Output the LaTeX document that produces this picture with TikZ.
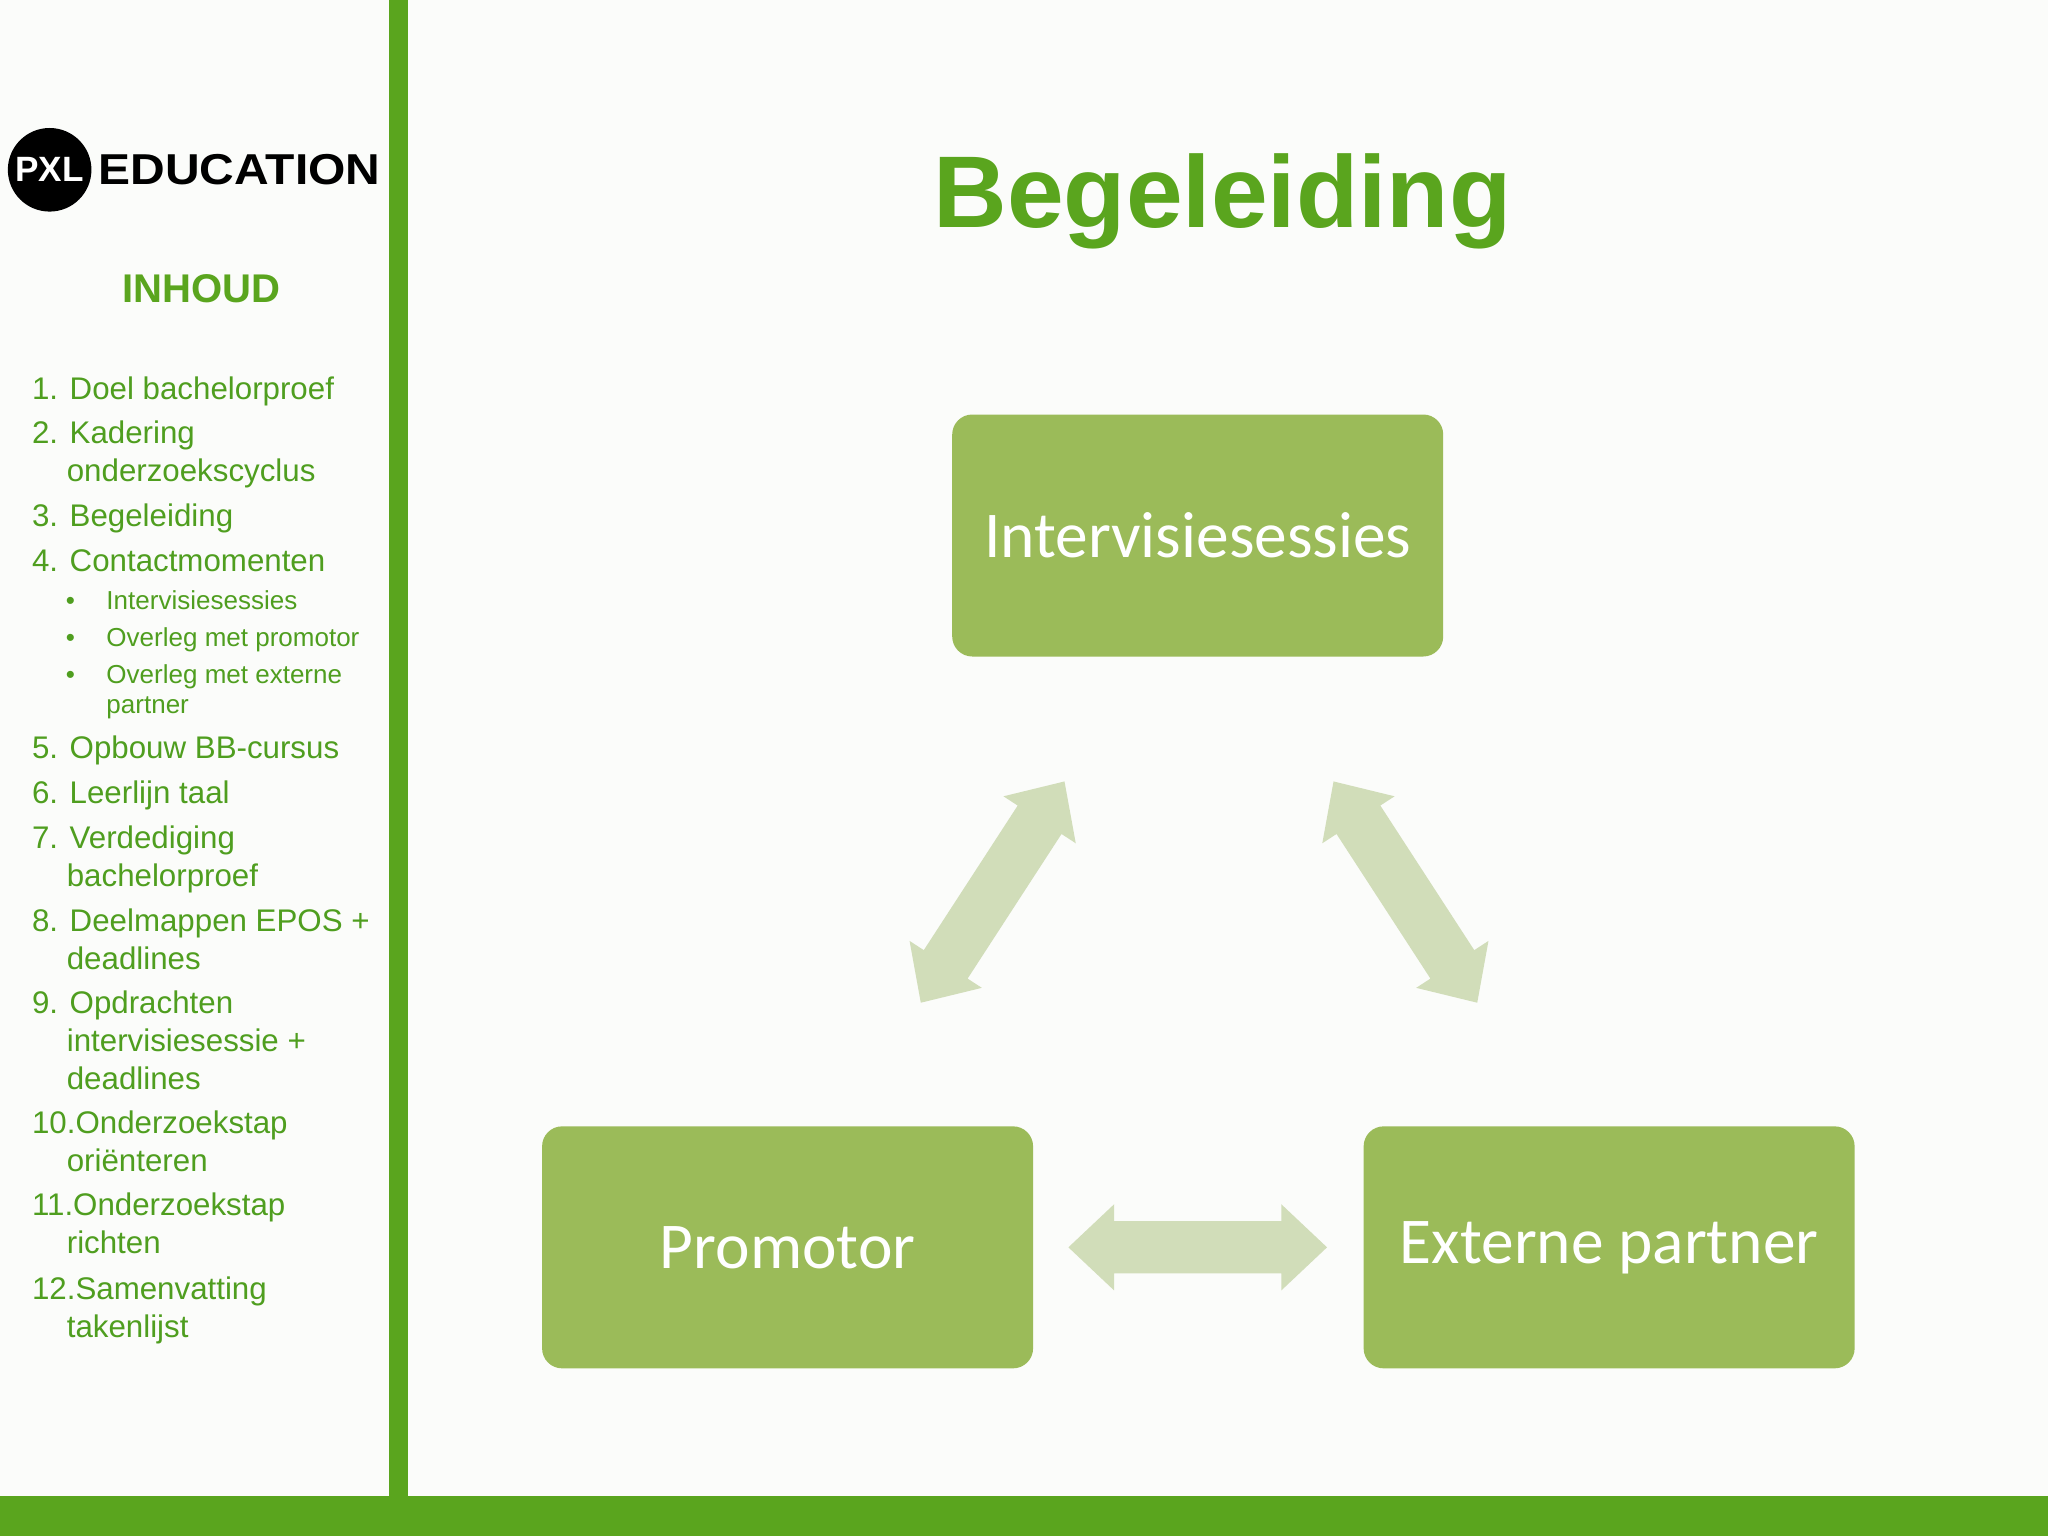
\documentclass[tikz,border=0pt]{standalone}
\usepackage{fontspec}
\setmainfont{Liberation Sans}
\newfontfamily\boxfont{Carlito}
\usetikzlibrary{positioning}
\definecolor{pxlgreen}{HTML}{5AA51E}
\definecolor{listgreen}{HTML}{4F9E1F}
\definecolor{boxgreen}{HTML}{9BBB59}
\definecolor{arrowgreen}{HTML}{D1DDB9}
\definecolor{paper}{HTML}{FBFCFA}
\tikzset{
  topic/.style={fill=boxgreen, rounded corners=0.2cm, minimum width=4.91cm,
    minimum height=2.42cm, text=white, font=\boxfont\fontsize{18.6}{22}\selectfont},
  pics/link/.style={code={
    \fill[arrowgreen] (-#1,0) -- (-#1+35,33) -- (-#1+35,20) -- (#1-35,20) -- (#1-35,33)
      -- (#1,0) -- (#1-35,-33) -- (#1-35,-20) -- (-#1+35,-20) -- (-#1+35,-33) -- cycle;}},
  item/.style={anchor=north west, text=listgreen, inner sep=0pt,
    font=\fontsize{8.9}{10.8}\selectfont, align=left},
  subitem/.style={anchor=north west, text=listgreen, inner sep=0pt,
    font=\fontsize{7.4}{8.8}\selectfont, align=left}
}
\newcommand\ind{\hspace*{9.9pt}}
\newcommand\bul{\llap{\textbullet\hspace{9pt}}}
\begin{document}
\begin{tikzpicture}[x=0.01306cm, y=-0.01306cm]
\useasboundingbox (0,0) rectangle (1568,1176);
\fill[paper] (0,0) rectangle (1568,1176);

%bars
\fill[pxlgreen] (298,0) rectangle (312,1145);
\fill[pxlgreen] (0,1145) rectangle (1568,1176);

%logo
\fill[black] (38,130) circle (32);
\node[text=white, font=\bfseries\fontsize{10}{12}\selectfont] (pxl) at (38,130) {PXL};
\node[anchor=west, inner sep=0pt, font=\bfseries\fontsize{12.3}{14}\selectfont] (edu) at (75,130) {\scalebox{1.11}[1]{EDUCATION}};

%table of contents
\node[text=pxlgreen, font=\bfseries\fontsize{11.4}{13}\selectfont] (inhoud) at (154,221) {INHOUD};
\node[item] (i1) at (24,288) {1. Doel bachelorproef};
\node[item] (i2) at (24,322) {2. Kadering\\\ind onderzoekscyclus};
\node[item] (i3) at (24,385) {3. Begeleiding};
\node[item] (i4) at (24,420) {4. Contactmomenten};
\node[subitem] (s1) at (81,452) {\bul Intervisiesessies};
\node[subitem] (s2) at (81,480) {\bul Overleg met promotor};
\node[subitem] (s3) at (81,508) {\bul Overleg met externe\\partner};
\node[item] (i5) at (24,563) {5. Opbouw BB-cursus};
\node[item] (i6) at (24,597) {6. Leerlijn taal};
\node[item] (i7) at (24,632) {7. Verdediging\\\ind bachelorproef};
\node[item] (i8) at (24,695) {8. Deelmappen EPOS +\\\ind deadlines};
\node[item] (i9) at (24,758) {9. Opdrachten\\\ind intervisiesessie +\\\ind deadlines};
\node[item] (i10) at (24,850) {10.Onderzoekstap\\\ind oriënteren};
\node[item] (i11) at (24,913) {11.Onderzoekstap\\\ind richten};
\node[item] (i12) at (24,977) {12.Samenvatting\\\ind takenlijst};

%title
\node[text=pxlgreen, font=\bfseries\fontsize{29}{34}\selectfont] (title) at (936,154) {Begeleiding};

%diagram
\node[topic] (inter) at (917,410) {Intervisiesessies};
\node[topic] (prom) at (603,955) {Promotor};
\node[topic] (ext) at (1232,955) {Externe partner};

\pic (pe) at (917,955) {link=99};
\pic[rotate=57] (pi) at (760,683) {link=101};
\pic[rotate=-57] (ie) at (1076,683) {link=101};
\end{tikzpicture}
\end{document}
